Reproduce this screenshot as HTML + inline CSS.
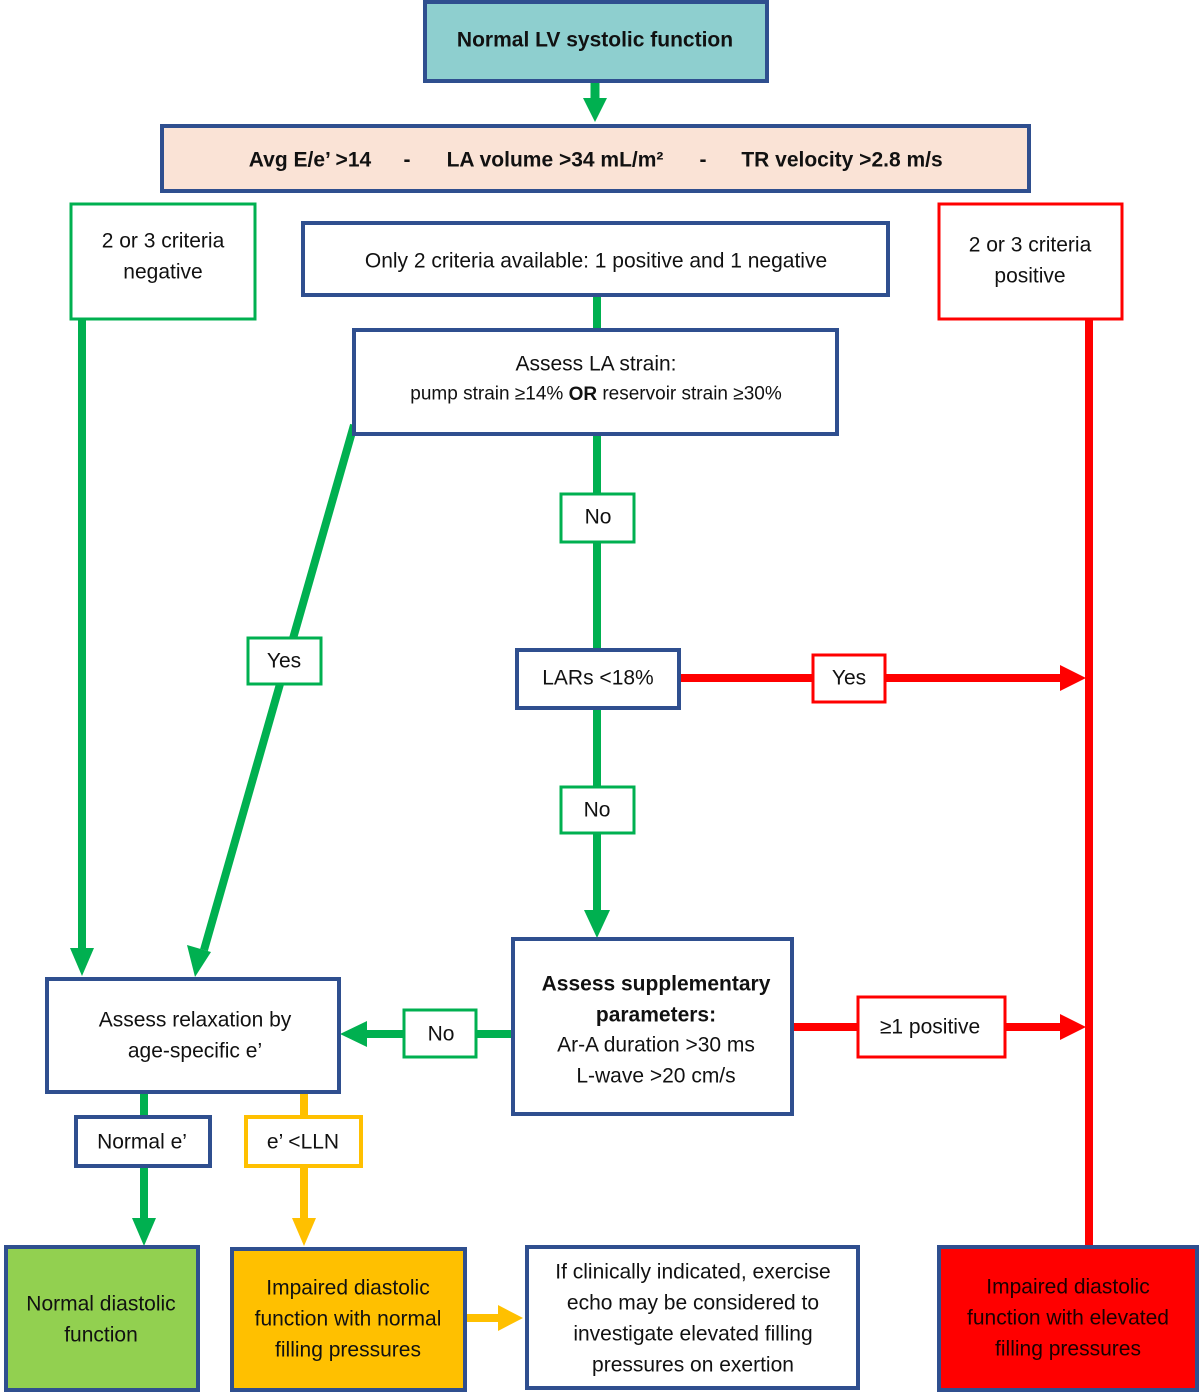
<!DOCTYPE html>
<html><head><meta charset="utf-8"><style>
html,body{margin:0;padding:0;background:#fff}
svg{display:block}
text{font-family:"Liberation Sans",sans-serif;font-size:21px;fill:#111;text-anchor:middle;dominant-baseline:central}
.b{font-weight:bold}
</style></head><body>
<svg width="1200" height="1393" viewBox="0 0 1200 1393" xmlns="http://www.w3.org/2000/svg">
<g fill="none" stroke-width="4">
<line x1="595" y1="81" x2="595" y2="100" stroke="#00b050" stroke-width="9"/>
<polygon points="583,98 607,98 595,122" fill="#00b050" stroke="none"/>
<line x1="82" y1="319" x2="82" y2="950" stroke="#00b050" stroke-width="8"/>
<polygon points="70,948 94,948 82,976" fill="#00b050" stroke="none"/>
<line x1="597" y1="295" x2="597" y2="330" stroke="#00b050" stroke-width="8"/>
<line x1="597" y1="434" x2="597" y2="650" stroke="#00b050" stroke-width="8"/>
<line x1="354" y1="425" x2="204" y2="950" stroke="#00b050" stroke-width="8"/>
<polygon points="187,945 211,952 195,977" fill="#00b050" stroke="none"/>
<line x1="679" y1="678" x2="1062" y2="678" stroke="#ff0000" stroke-width="8"/>
<polygon points="1060,665 1060,691 1086,678" fill="#ff0000" stroke="none"/>
<line x1="597" y1="708" x2="597" y2="912" stroke="#00b050" stroke-width="8"/>
<polygon points="584,910 610,910 597,938" fill="#00b050" stroke="none"/>
<line x1="792" y1="1027" x2="1062" y2="1027" stroke="#ff0000" stroke-width="8"/>
<polygon points="1060,1014 1060,1040 1086,1027" fill="#ff0000" stroke="none"/>
<line x1="513" y1="1034" x2="365" y2="1034" stroke="#00b050" stroke-width="8"/>
<polygon points="367,1021 367,1047 340,1034" fill="#00b050" stroke="none"/>
<line x1="1089" y1="319" x2="1089" y2="1247" stroke="#ff0000" stroke-width="8"/>
<line x1="144" y1="1092" x2="144" y2="1220" stroke="#00b050" stroke-width="8"/>
<polygon points="132,1218 156,1218 144,1246" fill="#00b050" stroke="none"/>
<line x1="304" y1="1092" x2="304" y2="1220" stroke="#ffc000" stroke-width="8"/>
<polygon points="292,1218 316,1218 304,1246" fill="#ffc000" stroke="none"/>
<line x1="465" y1="1318" x2="500" y2="1318" stroke="#ffc000" stroke-width="8"/>
<polygon points="498,1305 498,1331 523,1318" fill="#ffc000" stroke="none"/>
<rect x="425" y="2" width="342" height="79" fill="#8ecfcf" stroke="#2f4f8f"/>
<rect x="162" y="126" width="867" height="65" fill="#fae3d6" stroke="#2f4f8f"/>
<rect x="71" y="204" width="184" height="115" fill="#fff" stroke="#00b050" stroke-width="3"/>
<rect x="303" y="223" width="585" height="72" fill="#fff" stroke="#2f4f8f"/>
<rect x="939" y="204" width="183" height="115" fill="#fff" stroke="#ff0000" stroke-width="3"/>
<rect x="354" y="330" width="483" height="104" fill="#fff" stroke="#2f4f8f"/>
<rect x="561" y="494" width="73" height="48" fill="#fff" stroke="#00b050" stroke-width="3"/>
<rect x="248" y="638" width="73" height="46" fill="#fff" stroke="#00b050" stroke-width="3"/>
<rect x="517" y="650" width="162" height="58" fill="#fff" stroke="#2f4f8f"/>
<rect x="813" y="655" width="72" height="47" fill="#fff" stroke="#ff0000" stroke-width="3"/>
<rect x="561" y="787" width="73" height="46" fill="#fff" stroke="#00b050" stroke-width="3"/>
<rect x="513" y="939" width="279" height="175" fill="#fff" stroke="#2f4f8f"/>
<rect x="858" y="997" width="147" height="60" fill="#fff" stroke="#ff0000" stroke-width="3"/>
<rect x="404" y="1010" width="72" height="47" fill="#fff" stroke="#00b050" stroke-width="3"/>
<rect x="47" y="979" width="292" height="113" fill="#fff" stroke="#2f4f8f"/>
<rect x="76" y="1117" width="134" height="49" fill="#fff" stroke="#2f4f8f"/>
<rect x="246" y="1117" width="115" height="49" fill="#fff" stroke="#ffc000"/>
<rect x="6" y="1247" width="192" height="143" fill="#92d050" stroke="#2f4f8f"/>
<rect x="232" y="1249" width="233" height="141" fill="#ffc000" stroke="#2f4f8f"/>
<rect x="527" y="1247" width="331" height="141" fill="#fff" stroke="#2f4f8f"/>
<rect x="939" y="1247" width="258" height="143" fill="#ff0000" stroke="#2f4f8f"/>
</g>
<text x="595" y="40" class="b">Normal LV systolic function</text>
<text x="310" y="160" class="b">Avg E/e’ &gt;14</text>
<text x="407" y="160" class="b">-</text>
<text x="555" y="160" class="b">LA volume &gt;34 mL/m²</text>
<text x="703" y="160" class="b">-</text>
<text x="842" y="160" class="b">TR velocity &gt;2.8 m/s</text>
<text x="163" y="241">2 or 3 criteria</text>
<text x="163" y="272">negative</text>
<text x="596" y="261">Only 2 criteria available: 1 positive and 1 negative</text>
<text x="1030" y="245">2 or 3 criteria</text>
<text x="1030" y="276">positive</text>
<text x="596" y="364">Assess LA strain:</text>
<text x="596" y="394" style="font-size:19px">pump strain ≥14% <tspan class="b">OR</tspan> reservoir strain ≥30%</text>
<text x="598" y="517">No</text>
<text x="284" y="661">Yes</text>
<text x="598" y="678">LARs &lt;18%</text>
<text x="849" y="678">Yes</text>
<text x="597" y="810">No</text>
<text x="656" y="984" class="b">Assess supplementary</text>
<text x="656" y="1015" class="b">parameters:</text>
<text x="656" y="1045">Ar-A duration &gt;30 ms</text>
<text x="656" y="1076">L-wave &gt;20 cm/s</text>
<text x="930" y="1027">≥1 positive</text>
<text x="441" y="1034">No</text>
<text x="195" y="1020">Assess relaxation by</text>
<text x="195" y="1051">age-specific e’</text>
<text x="142" y="1142">Normal e’</text>
<text x="303" y="1142">e’ &lt;LLN</text>
<text x="101" y="1304">Normal diastolic</text>
<text x="101" y="1335">function</text>
<text x="348" y="1288">Impaired diastolic</text>
<text x="348" y="1319">function with normal</text>
<text x="348" y="1350">filling pressures</text>
<text x="693" y="1272">If clinically indicated, exercise</text>
<text x="693" y="1303">echo may be considered to</text>
<text x="693" y="1334">investigate elevated filling</text>
<text x="693" y="1365">pressures on exertion</text>
<text x="1068" y="1287" style="fill:#1a0000">Impaired diastolic</text>
<text x="1068" y="1318" style="fill:#1a0000">function with elevated</text>
<text x="1068" y="1349" style="fill:#1a0000">filling pressures</text>
</svg>
</body></html>
